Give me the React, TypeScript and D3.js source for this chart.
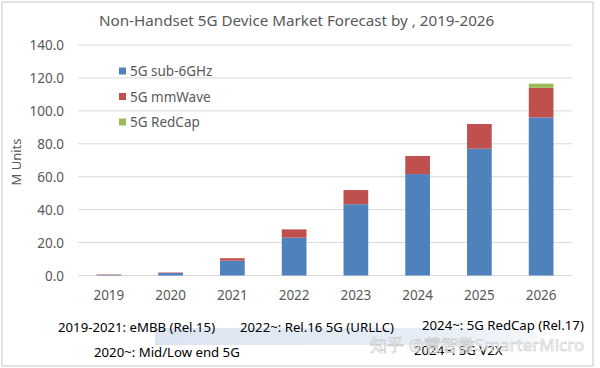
import React from "react";
import * as d3 from "d3";

const years = ["2019", "2020", "2021", "2022", "2023", "2024", "2025", "2026"];
const sub6 = [0.3, 1.5, 9, 23, 43.3, 61.6, 77, 96];
const mmWave = [0.3, 0.3, 1.5, 5, 8.6, 11, 15, 18];
const redCap = [0, 0, 0, 0, 0, 0, 0, 2.5];
const seriesNames = ["5G sub-6GHz", "5G mmWave", "5G RedCap"];
const colors = ["#4F81BD", "#C0504D", "#9BBB59"];
const yTicks = [0, 20, 40, 60, 80, 100, 120, 140];

const notes = [
  { text: "2019-2021: eMBB (Rel.15)", x: 58, y: 332 },
  { text: "2022~: Rel.16 5G (URLLC)", x: 240, y: 332 },
  { text: "2024~: 5G RedCap (Rel.17)", x: 422, y: 330 },
  { text: "2020~: Mid/Low end 5G", x: 94, y: 357 },
  { text: "2024~: 5G V2X", x: 414, y: 355 },
];

const W = 600;
const H = 368;
const font = "'Noto Sans', sans-serif";

export default function App() {
  const x = d3
    .scaleBand()
    .domain(years)
    .range([78, 572])
    .paddingInner(0.6)
    .paddingOuter(0.3);
  const y = d3.scaleLinear().domain([0, 140]).range([275.5, 45]);

  const rows = years.map((yr, i) => ({ year: yr, sub6: sub6[i], mmWave: mmWave[i], redCap: redCap[i] }));
  const stack = d3.stack().keys(["sub6", "mmWave", "redCap"])(rows as any);

  return (
    <svg width={W} height={H} style={{ position: "absolute", left: 0, top: 0 }}>
      <defs>
        <linearGradient id="band" x1="0" x2="1" y1="0" y2="0">
          <stop offset="0" stopColor="#dbe5f1" />
          <stop offset="0.7" stopColor="#e6edf6" />
          <stop offset="1" stopColor="#f4f7fb" />
        </linearGradient>
      </defs>
      <rect x={0} y={0} width={W} height={H} fill="#fff" />
      <rect x={2} y={2} width={591} height={364} fill="#fff" stroke="#d9d9d9" strokeWidth={1.5} />

      <text x={99} y={26} fontFamily={font} fontSize={15.2} fill="#595959">
        Non-Handset 5G Device Market Forecast by , 2019-2026
      </text>

      {yTicks.map((t) => (
        <g key={t}>
          <line x1={78} x2={572} y1={y(t)} y2={y(t)} stroke="#d9d9d9" strokeWidth={1} />
          <text x={64} y={y(t) + 5} textAnchor="end" fontFamily={font} fontSize={13.5} fill="#595959">
            {t.toFixed(1)}
          </text>
        </g>
      ))}

      <text
        transform={`translate(21, 162) rotate(-90)`}
        textAnchor="middle"
        fontFamily={font}
        fontSize={13}
        fill="#595959"
      >
        M Units
      </text>

      {stack.map((s, si) =>
        s.map((d, i) => (
          <rect
            key={si + "-" + i}
            x={x(years[i])}
            width={x.bandwidth()}
            y={y(d[1])}
            height={Math.max(0, y(d[0]) - y(d[1]))}
            fill={colors[si]}
          />
        ))
      )}

      {years.map((yr) => (
        <text
          key={yr}
          x={(x(yr) as number) + x.bandwidth() / 2}
          y={300}
          textAnchor="middle"
          fontFamily={font}
          fontSize={13.5}
          fill="#595959"
        >
          {yr}
        </text>
      ))}

      {seriesNames.map((n, i) => (
        <g key={n} transform={`translate(119, ${71 + i * 25.5})`}>
          <rect x={0} y={-3.5} width={7} height={7} fill={colors[i]} />
          <text x={11} y={5} fontFamily={font} fontSize={13.5} fill="#595959">
            {n}
          </text>
        </g>
      ))}

      <path d="M155,328 L530,328 L540,336.5 L530,345 L155,345 Z" fill="url(#band)" />

      {notes.map((n) => (
        <text key={n.text} x={n.x} y={n.y} fontFamily={font} fontSize={13.2} fill="#000">
          {n.text}
        </text>
      ))}

      <text x={370} y={351} fontFamily={font} fontSize={17} fill="#ffffff" fillOpacity={0.6} stroke="#c8c8c8" strokeWidth={0.6}>
        知乎 @慧智微SmarterMicro
      </text>
    </svg>
  );
}
